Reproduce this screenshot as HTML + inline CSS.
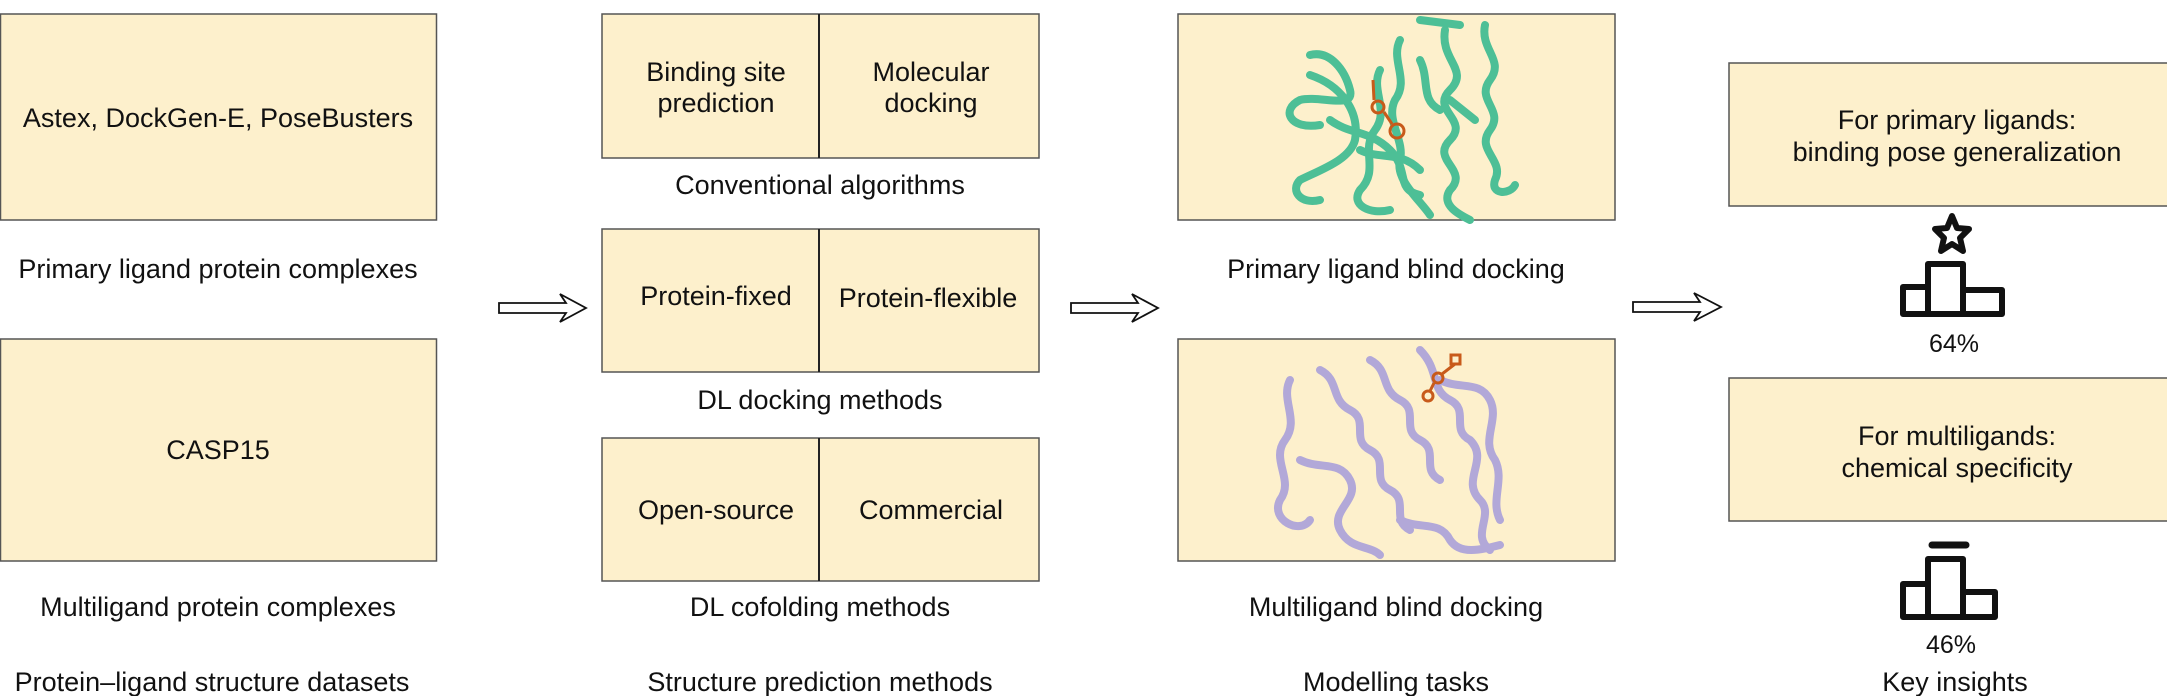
<!DOCTYPE html>
<html><head><meta charset="utf-8"><style>
html,body{margin:0;padding:0;background:#fff;}
body{width:2167px;height:696px;overflow:hidden;position:relative;font-family:"Liberation Sans",sans-serif;color:#111;}
svg{position:absolute;left:0;top:0;}
</style></head><body>
<svg width="2167" height="696" viewBox="0 0 2167 696" font-family="Liberation Sans, sans-serif" font-size="27" fill="#111">
<g fill="#fdf0cc" stroke="#555" stroke-width="1.5">
<rect x="0.5" y="14" width="436" height="206"/>
<rect x="0.5" y="339" width="436" height="222"/>
<rect x="602" y="14" width="437" height="144"/>
<rect x="602" y="229" width="437" height="143"/>
<rect x="602" y="438" width="437" height="143"/>
<rect x="1178" y="14" width="437" height="206"/>
<rect x="1178" y="339" width="437" height="222"/>
<rect x="1729" y="63" width="440" height="143"/>
<rect x="1729" y="378" width="440" height="143"/>
</g>
<g stroke="#222" stroke-width="2">
<line x1="819" y1="14" x2="819" y2="158"/>
<line x1="819" y1="229" x2="819" y2="372"/>
<line x1="819" y1="438" x2="819" y2="581"/>
</g>
<g text-anchor="middle">
<text x="218" y="127">Astex, DockGen-E, PoseBusters</text>
<text x="218" y="278">Primary ligand protein complexes</text>
<text x="218" y="459">CASP15</text>
<text x="218" y="616">Multiligand protein complexes</text>
<text x="212" y="691">Protein–ligand structure datasets</text>
<text x="716" y="81">Binding site</text>
<text x="716" y="112">prediction</text>
<text x="931" y="81">Molecular</text>
<text x="931" y="112">docking</text>
<text x="820" y="194">Conventional algorithms</text>
<text x="716" y="305">Protein-fixed</text>
<text x="928" y="307">Protein-flexible</text>
<text x="820" y="409">DL docking methods</text>
<text x="716" y="519">Open-source</text>
<text x="931" y="519">Commercial</text>
<text x="820" y="616">DL cofolding methods</text>
<text x="820" y="691">Structure prediction methods</text>
<text x="1396" y="278">Primary ligand blind docking</text>
<text x="1396" y="616">Multiligand blind docking</text>
<text x="1396" y="691">Modelling tasks</text>
<text x="1957" y="129">For primary ligands:</text>
<text x="1957" y="161">binding pose generalization</text>
<text x="1954" y="352" font-size="25">64%</text>
<text x="1957" y="445">For multiligands:</text>
<text x="1957" y="477">chemical specificity</text>
<text x="1951" y="653" font-size="25">46%</text>
<text x="1955" y="691">Key insights</text>
</g>
<g fill="#fff" stroke="#111" stroke-width="1.8">
<path d="M499,303 L566,303 L560,294 L586,308 L560,322 L566,313 L499,313 Z"/>
<path d="M1071,303 L1138,303 L1132,294 L1158,308 L1132,322 L1138,313 L1071,313 Z"/>
<path d="M1633,302 L1700,302 L1694,293 L1721,307 L1694,321 L1700,312 L1633,312 Z"/>
</g>
<g fill="none" stroke="#111" stroke-width="6" stroke-linejoin="round">
<path d="M1952,216 L1957,228 L1969,229 L1960,238 L1963,251 L1952,244 L1941,251 L1944,238 L1935,229 L1947,228 Z"/>
<rect x="1903" y="287" width="25" height="27"/>
<rect x="1928" y="264" width="35" height="50"/>
<rect x="1963" y="290" width="39" height="24"/>
<line x1="1932" y1="545" x2="1966" y2="545" stroke-linecap="round" stroke-width="7"/>
<rect x="1903" y="584" width="25" height="33"/>
<rect x="1928" y="559" width="35" height="58"/>
<rect x="1963" y="592" width="32" height="25"/>
</g>
<g fill="none" stroke="#4dbf96" stroke-width="8" stroke-linecap="round" stroke-linejoin="round">
<path d="M1310,55 C1330,50 1345,70 1350,90 C1355,110 1320,95 1300,100 C1280,110 1290,130 1320,125"/>
<path d="M1310,75 C1340,85 1360,110 1355,140 C1350,160 1320,170 1300,180 C1290,190 1300,205 1320,200"/>
<path d="M1380,70 C1370,90 1390,110 1375,130 C1360,150 1380,170 1360,190 C1350,205 1370,215 1390,210"/>
<path d="M1400,40 C1390,60 1410,80 1395,100 C1385,120 1405,140 1400,160 C1395,180 1420,200 1430,215"/>
<path d="M1445,30 C1440,60 1470,70 1450,90 C1430,110 1470,120 1450,140 C1430,160 1470,170 1450,190 C1440,205 1460,215 1470,220"/>
<path d="M1485,25 C1480,50 1505,60 1490,80 C1475,100 1505,110 1490,130 C1475,150 1505,160 1495,180 C1490,195 1510,195 1515,185"/>
<path d="M1420,20 L1460,25 M1330,120 C1350,135 1370,130 1390,150 C1410,170 1395,190 1420,195"/>
<path d="M1360,150 C1380,160 1400,150 1420,170 M1450,100 L1475,120 M1420,60 C1430,80 1420,100 1440,110"/>
</g>
<g fill="none" stroke="#c85a1a" stroke-width="3">
<circle cx="1378" cy="107" r="6"/><circle cx="1397" cy="131" r="7"/>
<path d="M1373,80 L1374,100 M1384,112 L1392,124"/>
</g>
<g fill="none" stroke="#b2a8d8" stroke-width="8" stroke-linecap="round" stroke-linejoin="round">
<path d="M1290,380 C1280,400 1300,420 1285,440 C1270,460 1295,480 1280,500 C1270,520 1300,535 1310,520"/>
<path d="M1320,370 C1340,380 1330,400 1350,410 C1370,420 1350,440 1370,450 C1390,460 1370,480 1390,490 C1410,500 1390,520 1410,530"/>
<path d="M1370,360 C1390,370 1380,390 1400,400 C1420,410 1400,430 1420,440 C1440,450 1420,470 1440,480"/>
<path d="M1420,350 C1440,370 1430,390 1450,400 C1470,410 1450,430 1470,440 C1490,460 1460,480 1480,500 C1495,515 1470,535 1490,550"/>
<path d="M1440,380 C1460,390 1480,380 1490,400 C1500,420 1480,440 1495,460 C1505,480 1490,500 1500,520"/>
<path d="M1300,460 C1320,470 1340,460 1350,480 C1360,500 1330,510 1340,530 C1350,550 1370,545 1380,555"/>
<path d="M1400,520 C1420,530 1440,520 1450,540 C1460,555 1480,550 1500,545"/>
</g>
<g fill="none" stroke="#c85a1a" stroke-width="3">
<rect x="1451" y="355" width="9" height="9"/><circle cx="1438" cy="378" r="5"/><circle cx="1428" cy="396" r="5"/>
<path d="M1455,364 L1442,374 M1434,383 L1430,391"/>
</g>
</svg>
</body></html>
